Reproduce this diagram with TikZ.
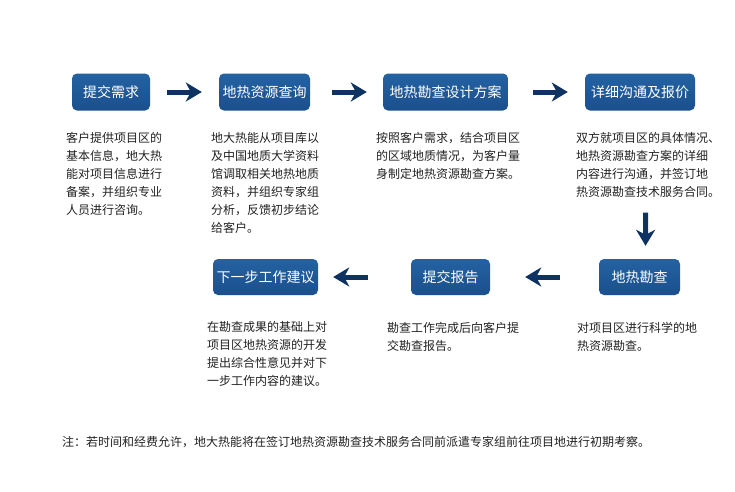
\documentclass[tikz,border=0pt]{standalone}
\usepackage{fontspec}
\setmainfont{Noto Sans CJK SC}
\usetikzlibrary{arrows.meta}
\pgfdeclarelayer{bg}
\pgfsetlayers{bg,main}
\definecolor{boxtop}{HTML}{2462A2}
\definecolor{boxbot}{HTML}{1B4F8D}
\definecolor{arrowc}{HTML}{0E3262}
\definecolor{txtc}{HTML}{222222}
\tikzset{
  box/.style={rectangle, rounded corners=5pt, top color=boxtop, bottom color=boxbot,
    draw=none, text=white, font=\fontsize{14}{16}\selectfont, inner sep=0pt, minimum height=37pt},
  arr/.style={draw=arrowc, line width=5pt, -{Stealth[length=16pt,width=19pt,inset=5pt]}},
  txt/.style={anchor=north west, inner sep=0pt, font=\fontsize{12}{18}\selectfont, align=left, text=txtc}
}
\begin{document}
\begin{tikzpicture}[x=1pt,y=-1pt]
\fill[white] (0,0) rectangle (735,491);
\useasboundingbox (0,0) rectangle (735,491);

\node[box, minimum width=78pt] (b1) at (111,92) {提交需求};
\node[box, minimum width=91pt] (b2) at (264.5,92) {地热资源查询};
\node[box, minimum width=125pt] (b3) at (445.5,92) {地热勘查设计方案};
\node[box, minimum width=110pt] (b4) at (640,92) {详细沟通及报价};
\node[box, minimum width=81pt, minimum height=36pt] (b5) at (639.5,277) {地热勘查};
\node[box, minimum width=79pt, minimum height=36pt] (b6) at (450.5,277) {提交报告};
\node[box, minimum width=105pt, minimum height=36pt] (b7) at (265.5,277) {下一步工作建议};

\begin{pgfonlayer}{bg}
\foreach \n in {b1,b2,b3,b4,b5,b6,b7} {
  \shade[left color=black!45, right color=white]
    ([yshift=-12pt]\n.north east) -- ([xshift=24pt,yshift=8pt]\n.south east)
    -- ([xshift=5pt,yshift=-3pt]\n.south east) -- cycle;
  \fill[black!70, rounded corners=5pt]
    ([xshift=4pt,yshift=-3pt]\n.north west) rectangle ([xshift=4pt,yshift=-3pt]\n.south east);
}
\end{pgfonlayer}

\draw[arr, shorten <=17pt, shorten >=17pt] (b1.east) -- (b2.west);
\draw[arr, shorten <=22pt, shorten >=16pt] (b2.east) -- (b3.west);
\draw[arr, shorten <=25pt, shorten >=17pt] (b3.east) -- (b4.west);
\draw[arr, shorten <=102pt, shorten >=13pt] ([xshift=6pt]b4.south) -- ([xshift=6pt]b5.north);
\draw[arr, shorten <=39pt, shorten >=35pt] (b5.west) -- (b6.east);
\draw[arr, shorten <=43pt, shorten >=15pt] (b6.west) -- (b7.east);

\node[txt] (t1) at (66,132) {客户提供项目区的\\基本信息，地大热\\能对项目信息进行\\备案，并组织专业\\人员进行咨询。};
\node[txt] (t2) at (211,132) {地大热能从项目库以\\及中国地质大学资料\\馆调取相关地热地质\\资料，并组织专家组\\分析，反馈初步结论\\给客户。};
\node[txt] (t3) at (376,132) {按照客户需求，结合项目区\\的区域地质情况，为客户量\\身制定地热资源勘查方案。};
\node[txt] (t4) at (576,132) {双方就项目区的具体情况、\\地热资源勘查方案的详细\\内容进行沟通，并签订地\\热资源勘查技术服务合同。};
\node[txt] (t5) at (577,322) {对项目区进行科学的地\\热资源勘查。};
\node[txt] (t6) at (387,322) {勘查工作完成后向客户提\\交勘查报告。};
\node[txt] (t7) at (207,321) {在勘查成果的基础上对\\项目区地热资源的开发\\提出综合性意见并对下\\一步工作内容的建议。};
\node[txt] (note) at (62,436) {注：若时间和经费允许，地大热能将在签订地热资源勘查技术服务合同前派遣专家组前往项目地进行初期考察。};
\end{tikzpicture}
\end{document}
